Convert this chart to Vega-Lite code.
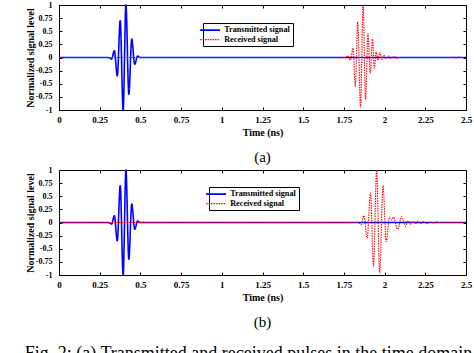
{
  "$schema": "https://vega.github.io/schema/vega-lite/v6.json",
  "padding": {"left": 24, "top": 0, "right": 0, "bottom": 0},
  "background": "#ffffff",
  "title": {"text": "Fig. 2: (a) Transmitted and received pulses in the time domain", "orient": "bottom", "anchor": "start", "font": "Liberation Serif", "fontSize": 18, "fontWeight": "normal", "color": "#000", "offset": 14},
  "config": {
    "font": "Liberation Serif",
    "view": {"stroke": "#000", "strokeWidth": 1},
    "axis": {"labelFont": "Liberation Serif", "labelFontWeight": "bold", "labelFontSize": 9, "labelColor": "#000", "titleFont": "Liberation Serif", "titleFontWeight": "bold", "titleFontSize": 10, "titleColor": "#000", "grid": false, "domain": false, "tickColor": "#000", "tickSize": -3, "labelFlush": false, "labelOverlap": false},
    "concat": {"spacing": -1}
  },
  "data": {"values": [
    {"panel":"a","series":"Transmitted signal","time":0,"level":0},
    {"panel":"a","series":"Transmitted signal","time":0.3,"level":0},
    {"panel":"a","series":"Transmitted signal","time":0.312,"level":-0.01},
    {"panel":"a","series":"Transmitted signal","time":0.323,"level":-0.03},
    {"panel":"a","series":"Transmitted signal","time":0.34,"level":0.13},
    {"panel":"a","series":"Transmitted signal","time":0.358,"level":-0.35},
    {"panel":"a","series":"Transmitted signal","time":0.376,"level":0.7},
    {"panel":"a","series":"Transmitted signal","time":0.394,"level":-1},
    {"panel":"a","series":"Transmitted signal","time":0.411,"level":1},
    {"panel":"a","series":"Transmitted signal","time":0.429,"level":-0.7},
    {"panel":"a","series":"Transmitted signal","time":0.447,"level":0.35},
    {"panel":"a","series":"Transmitted signal","time":0.465,"level":-0.13},
    {"panel":"a","series":"Transmitted signal","time":0.483,"level":0.03},
    {"panel":"a","series":"Transmitted signal","time":0.497,"level":0},
    {"panel":"a","series":"Transmitted signal","time":2.5,"level":0},
    {"panel":"a","series":"Received signal","time":0,"level":0},
    {"panel":"a","series":"Received signal","time":1.76,"level":0},
    {"panel":"a","series":"Received signal","time":1.775,"level":0.03},
    {"panel":"a","series":"Received signal","time":1.79,"level":-0.05},
    {"panel":"a","series":"Received signal","time":1.806,"level":0.18},
    {"panel":"a","series":"Received signal","time":1.82,"level":-0.55},
    {"panel":"a","series":"Received signal","time":1.835,"level":0.68},
    {"panel":"a","series":"Received signal","time":1.852,"level":-0.95},
    {"panel":"a","series":"Received signal","time":1.868,"level":1},
    {"panel":"a","series":"Received signal","time":1.883,"level":-0.8},
    {"panel":"a","series":"Received signal","time":1.898,"level":0.45},
    {"panel":"a","series":"Received signal","time":1.912,"level":-0.3},
    {"panel":"a","series":"Received signal","time":1.925,"level":0.35},
    {"panel":"a","series":"Received signal","time":1.937,"level":-0.2},
    {"panel":"a","series":"Received signal","time":1.948,"level":0.1},
    {"panel":"a","series":"Received signal","time":1.96,"level":-0.05},
    {"panel":"a","series":"Received signal","time":1.971,"level":0.1},
    {"panel":"a","series":"Received signal","time":1.982,"level":-0.04},
    {"panel":"a","series":"Received signal","time":1.995,"level":0.04},
    {"panel":"a","series":"Received signal","time":2.01,"level":-0.02},
    {"panel":"a","series":"Received signal","time":2.025,"level":0.03},
    {"panel":"a","series":"Received signal","time":2.04,"level":-0.02},
    {"panel":"a","series":"Received signal","time":2.055,"level":0.02},
    {"panel":"a","series":"Received signal","time":2.07,"level":-0.01},
    {"panel":"a","series":"Received signal","time":2.09,"level":0},
    {"panel":"a","series":"Received signal","time":2.41,"level":0},
    {"panel":"a","series":"Received signal","time":2.42,"level":0.01},
    {"panel":"a","series":"Received signal","time":2.435,"level":-0.01},
    {"panel":"a","series":"Received signal","time":2.45,"level":0.01},
    {"panel":"a","series":"Received signal","time":2.465,"level":0},
    {"panel":"a","series":"Received signal","time":2.5,"level":0},
    {"panel":"b","series":"Transmitted signal","time":0,"level":0},
    {"panel":"b","series":"Transmitted signal","time":0.3,"level":0},
    {"panel":"b","series":"Transmitted signal","time":0.312,"level":-0.01},
    {"panel":"b","series":"Transmitted signal","time":0.323,"level":-0.03},
    {"panel":"b","series":"Transmitted signal","time":0.34,"level":0.13},
    {"panel":"b","series":"Transmitted signal","time":0.358,"level":-0.35},
    {"panel":"b","series":"Transmitted signal","time":0.376,"level":0.7},
    {"panel":"b","series":"Transmitted signal","time":0.394,"level":-1},
    {"panel":"b","series":"Transmitted signal","time":0.411,"level":1},
    {"panel":"b","series":"Transmitted signal","time":0.429,"level":-0.7},
    {"panel":"b","series":"Transmitted signal","time":0.447,"level":0.35},
    {"panel":"b","series":"Transmitted signal","time":0.465,"level":-0.13},
    {"panel":"b","series":"Transmitted signal","time":0.483,"level":0.03},
    {"panel":"b","series":"Transmitted signal","time":0.497,"level":0},
    {"panel":"b","series":"Transmitted signal","time":2.5,"level":0},
    {"panel":"b","series":"Received signal","time":0,"level":0},
    {"panel":"b","series":"Received signal","time":1.84,"level":0},
    {"panel":"b","series":"Received signal","time":1.855,"level":-0.04},
    {"panel":"b","series":"Received signal","time":1.873,"level":0.13},
    {"panel":"b","series":"Received signal","time":1.893,"level":-0.3},
    {"panel":"b","series":"Received signal","time":1.913,"level":0.56},
    {"panel":"b","series":"Received signal","time":1.932,"level":-0.83},
    {"panel":"b","series":"Received signal","time":1.951,"level":1},
    {"panel":"b","series":"Received signal","time":1.97,"level":-0.96},
    {"panel":"b","series":"Received signal","time":1.99,"level":0.7},
    {"panel":"b","series":"Received signal","time":2.01,"level":-0.36},
    {"panel":"b","series":"Received signal","time":2.03,"level":0.1},
    {"panel":"b","series":"Received signal","time":2.042,"level":0.05},
    {"panel":"b","series":"Received signal","time":2.055,"level":0.1},
    {"panel":"b","series":"Received signal","time":2.08,"level":-0.13},
    {"panel":"b","series":"Received signal","time":2.105,"level":0.11},
    {"panel":"b","series":"Received signal","time":2.128,"level":-0.07},
    {"panel":"b","series":"Received signal","time":2.145,"level":0.03},
    {"panel":"b","series":"Received signal","time":2.16,"level":-0.03},
    {"panel":"b","series":"Received signal","time":2.175,"level":0.02},
    {"panel":"b","series":"Received signal","time":2.19,"level":-0.02},
    {"panel":"b","series":"Received signal","time":2.205,"level":0.03},
    {"panel":"b","series":"Received signal","time":2.22,"level":-0.02},
    {"panel":"b","series":"Received signal","time":2.24,"level":0.02},
    {"panel":"b","series":"Received signal","time":2.26,"level":-0.02},
    {"panel":"b","series":"Received signal","time":2.28,"level":0.01},
    {"panel":"b","series":"Received signal","time":2.3,"level":-0.01},
    {"panel":"b","series":"Received signal","time":2.32,"level":0.01},
    {"panel":"b","series":"Received signal","time":2.34,"level":0},
    {"panel":"b","series":"Received signal","time":2.5,"level":0}
  ]},
  "resolve": {"scale": {"color": "independent", "strokeDash": "independent", "strokeWidth": "independent"}, "legend": {"color": "independent", "strokeDash": "independent"}},
  "vconcat": [
    {
      "width": 407, "height": 105,
      "title": {"text": "(a)", "orient": "bottom", "font": "Liberation Serif", "fontSize": 15, "fontWeight": "normal", "color": "#000", "offset": 13},
      "transform": [{"filter": "datum.panel == 'a'"}],
      "layer": [
        {
          "mark": {"type": "line", "interpolate": "monotone"},
          "encoding": {
            "x": {"field": "time", "type": "quantitative", "scale": {"domain": [0, 2.5], "nice": false}, "axis": {"orient": "bottom", "title": "Time (ns)", "values": [0,0.25,0.5,0.75,1,1.25,1.5,1.75,2,2.25,2.5], "labelExpr": "toString(datum.value)", "labelPadding": 8, "titlePadding": 3}},
            "y": {"field": "level", "type": "quantitative", "scale": {"domain": [-1, 1], "nice": false}, "axis": {"orient": "left", "title": "Normalized signal level", "values": [-1,-0.75,-0.5,-0.25,0,0.25,0.5,0.75,1], "labelExpr": "toString(datum.value)", "labelFontSize": 8, "labelPadding": 10, "titlePadding": 0}},
            "color": {"field": "series", "type": "nominal", "scale": {"domain": ["Transmitted signal", "Received signal"], "range": ["#0000ff", "#ff0000"]},
              "legend": {"orient": "none", "legendX": 144, "legendY": 18, "title": null, "strokeColor": "#000", "fillColor": "#fff", "padding": 3, "labelFont": "Liberation Serif", "labelFontWeight": "bold", "labelFontSize": 8.2, "labelColor": "#000", "symbolType": "M-4,0H4", "symbolSize": 25, "labelOffset": 10, "rowPadding": 0.5, "symbolStrokeWidth": 1.5}},
            "strokeDash": {"field": "series", "type": "nominal", "scale": {"domain": ["Transmitted signal", "Received signal"], "range": [[1, 0], [1.5, 1]]},
              "legend": {"orient": "none", "legendX": 144, "legendY": 18, "title": null, "strokeColor": "#000", "fillColor": "#fff", "padding": 3, "labelFont": "Liberation Serif", "labelFontWeight": "bold", "labelFontSize": 8.2, "labelColor": "#000", "symbolType": "M-4,0H4", "symbolSize": 25, "labelOffset": 10, "rowPadding": 0.5, "symbolStrokeWidth": 1.5}},
            "strokeWidth": {"field": "series", "type": "nominal", "scale": {"domain": ["Transmitted signal", "Received signal"], "range": [1.6, 1.1]}, "legend": null}
          }
        },
        {
          "mark": {"type": "line", "opacity": 0},
          "encoding": {
            "x": {"field": "time", "type": "quantitative", "scale": {"domain": [0, 2.5], "nice": false}, "axis": {"orient": "top", "title": null, "labels": false, "values": [0,0.25,0.5,0.75,1,1.25,1.5,1.75,2,2.25,2.5]}},
            "y": {"field": "level", "type": "quantitative", "scale": {"domain": [-1, 1], "nice": false}, "axis": {"orient": "right", "title": null, "labels": false, "values": [-1,-0.75,-0.5,-0.25,0,0.25,0.5,0.75,1]}}
          }
        }
      ],
      "resolve": {"axis": {"x": "independent", "y": "independent"}}
    },
    {
      "width": 407, "height": 105,
      "title": {"text": "(b)", "orient": "bottom", "font": "Liberation Serif", "fontSize": 15, "fontWeight": "normal", "color": "#000", "offset": 13},
      "transform": [{"filter": "datum.panel == 'b'"}],
      "layer": [
        {
          "mark": {"type": "line", "interpolate": "monotone"},
          "encoding": {
            "x": {"field": "time", "type": "quantitative", "scale": {"domain": [0, 2.5], "nice": false}, "axis": {"orient": "bottom", "title": "Time (ns)", "values": [0,0.25,0.5,0.75,1,1.25,1.5,1.75,2,2.25,2.5], "labelExpr": "toString(datum.value)", "labelPadding": 8, "titlePadding": 3}},
            "y": {"field": "level", "type": "quantitative", "scale": {"domain": [-1, 1], "nice": false}, "axis": {"orient": "left", "title": "Normalized signal level", "values": [-1,-0.75,-0.5,-0.25,0,0.25,0.5,0.75,1], "labelExpr": "toString(datum.value)", "labelFontSize": 8, "labelPadding": 10, "titlePadding": 0}},
            "color": {"field": "series", "type": "nominal", "scale": {"domain": ["Transmitted signal", "Received signal"], "range": ["#0000ff", "#ff0000"]},
              "legend": {"orient": "none", "legendX": 150, "legendY": 17, "title": null, "strokeColor": "#000", "fillColor": "#fff", "padding": 3, "labelFont": "Liberation Serif", "labelFontWeight": "bold", "labelFontSize": 8.2, "labelColor": "#000", "symbolType": "M-4,0H4", "symbolSize": 25, "labelOffset": 10, "rowPadding": 0.5, "symbolStrokeWidth": 1.5}},
            "strokeDash": {"field": "series", "type": "nominal", "scale": {"domain": ["Transmitted signal", "Received signal"], "range": [[1, 0], [1.5, 1]]},
              "legend": {"orient": "none", "legendX": 150, "legendY": 17, "title": null, "strokeColor": "#000", "fillColor": "#fff", "padding": 3, "labelFont": "Liberation Serif", "labelFontWeight": "bold", "labelFontSize": 8.2, "labelColor": "#000", "symbolType": "M-4,0H4", "symbolSize": 25, "labelOffset": 10, "rowPadding": 0.5, "symbolStrokeWidth": 1.5}},
            "strokeWidth": {"field": "series", "type": "nominal", "scale": {"domain": ["Transmitted signal", "Received signal"], "range": [1.6, 1.1]}, "legend": null}
          }
        },
        {
          "mark": {"type": "line", "opacity": 0},
          "encoding": {
            "x": {"field": "time", "type": "quantitative", "scale": {"domain": [0, 2.5], "nice": false}, "axis": {"orient": "top", "title": null, "labels": false, "values": [0,0.25,0.5,0.75,1,1.25,1.5,1.75,2,2.25,2.5]}},
            "y": {"field": "level", "type": "quantitative", "scale": {"domain": [-1, 1], "nice": false}, "axis": {"orient": "right", "title": null, "labels": false, "values": [-1,-0.75,-0.5,-0.25,0,0.25,0.5,0.75,1]}}
          }
        }
      ],
      "resolve": {"axis": {"x": "independent", "y": "independent"}}
    }
  ]
}
